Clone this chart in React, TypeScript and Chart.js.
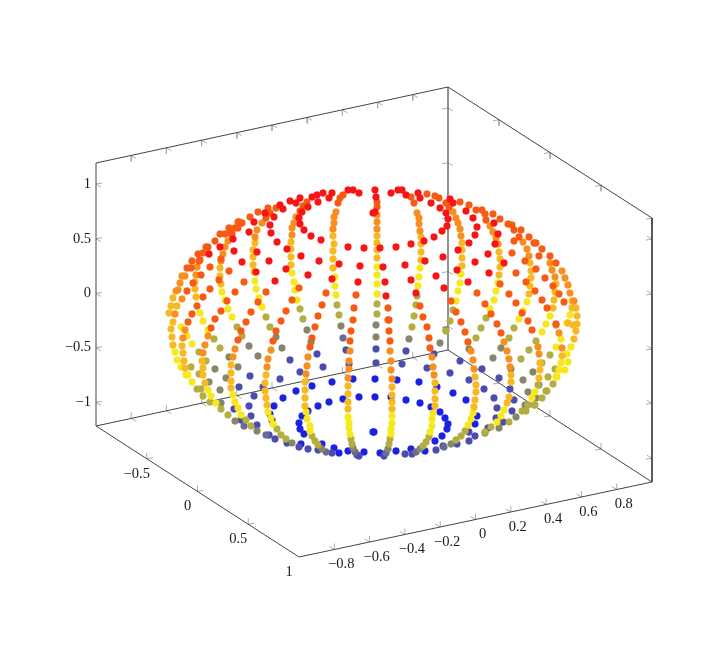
import React, { useEffect, useRef } from "react";
import { Chart, registerables } from "chart.js";

Chart.register(...registerables);

type P = number[];

// Points, grouped by colour band (low z to high z), in projected plane units.
const bluePts: P[] = [[312,386],[329,402],[332,382],[343,399],[353,379],[359,397],[283,398],[274,406],[296,391],[270,414],[272,420],[299,423],[302,416],[308,411],[318,406],[300,429],[304,434],[322,444],[334,448],[301,444],[339,453],[348,451],[364,452],[375,379],[375,397],[373,432],[374,432],[380,453],[391,397],[397,380],[396,451],[411,449],[425,451],[419,382],[406,400],[437,387],[420,403],[453,393],[431,407],[466,400],[440,412],[477,416],[445,418],[475,424],[448,424],[447,429],[442,436],[435,441]];
const slatePts: P[] = [[332,453],[357,455],[359,456],[384,456],[412,454],[346,350],[349,364],[290,360],[300,372],[317,354],[323,367],[250,376],[263,387],[239,387],[254,396],[234,409],[249,406],[241,420],[251,416],[257,425],[275,439],[269,435],[287,443],[318,450],[308,449],[299,447],[280,379],[376,349],[376,363],[406,351],[402,364],[434,354],[427,368],[460,361],[450,373],[482,369],[469,380],[499,378],[484,389],[510,389],[494,398],[514,400],[497,408],[512,411],[496,418],[503,422],[488,428],[469,432],[475,436],[469,441],[457,444],[405,454],[436,450],[443,446]];
const steelPts: P[] = [[326,452],[355,452],[386,453],[416,452],[444,447],[343,338],[244,426],[266,435]];
const grayPts: P[] = [[341,326],[307,330],[257,431],[292,443],[322,449],[353,448],[388,449],[376,325],[446,330],[229,357],[238,367],[249,346],[258,356],[276,337],[282,348],[311,342],[215,369],[226,378],[220,390],[209,382],[221,403],[235,421],[376,337],[420,449],[451,444],[409,339],[440,343],[469,349],[501,348],[493,358],[511,369],[533,372],[523,380],[539,385],[528,392],[536,398],[525,405],[516,417],[499,428],[485,433]];
const olivePts: P[] = [[337,305],[339,315],[300,309],[303,319],[266,317],[270,327],[237,327],[197,389],[221,409],[246,420],[251,426],[277,429],[281,435],[286,439],[312,436],[315,441],[318,445],[351,439],[352,444],[377,304],[377,314],[417,296],[416,305],[414,316],[453,310],[450,321],[486,318],[481,328],[514,328],[390,439],[389,444],[429,437],[426,442],[423,446],[465,431],[461,436],[456,440],[491,427],[485,432],[528,405],[522,411],[509,422],[553,384],[547,391],[542,398],[535,405],[526,411],[214,339],[220,348],[242,336],[199,352],[191,367],[199,374],[206,361],[201,389],[203,396],[210,402],[228,415],[550,355],[542,363],[555,369],[548,377],[546,391],[534,405],[412,327],[446,331],[476,338],[509,338],[529,350],[521,359],[536,341],[538,385]];
const yellowPts: P[] = [[335,277],[335,286],[336,295],[292,273],[294,282],[295,290],[297,300],[255,281],[256,289],[259,298],[262,307],[222,292],[225,300],[228,309],[232,317],[200,313],[203,321],[208,330],[175,352],[177,360],[181,367],[186,375],[192,382],[188,375],[192,344],[187,336],[181,327],[208,390],[211,396],[216,403],[233,395],[235,402],[238,408],[241,415],[268,412],[271,418],[273,424],[306,412],[307,419],[310,426],[310,431],[348,417],[349,423],[349,428],[350,434],[377,267],[377,275],[377,284],[377,294],[420,268],[419,277],[418,286],[461,274],[460,283],[458,291],[456,301],[498,283],[496,291],[494,300],[490,309],[527,302],[523,311],[519,319],[550,316],[546,324],[570,315],[567,323],[392,416],[392,423],[391,429],[391,434],[433,413],[432,419],[432,426],[430,432],[473,413],[471,419],[468,425],[504,410],[501,416],[497,422],[535,392],[532,398],[561,339],[561,363],[559,370],[557,377],[571,347],[567,354],[568,362],[565,370],[556,377],[542,332],[556,347]];
const amberPts: P[] = [[333,236],[334,244],[333,251],[333,259],[333,268],[291,242],[291,249],[291,257],[291,265],[255,243],[253,250],[253,257],[253,265],[254,272],[220,268],[220,276],[221,284],[195,282],[195,289],[196,297],[173,298],[171,306],[169,313],[173,322],[171,329],[177,306],[172,337],[173,345],[182,346],[183,353],[184,361],[185,368],[202,361],[203,368],[203,375],[205,383],[231,365],[231,373],[231,381],[231,388],[266,375],[265,383],[265,391],[266,398],[267,405],[305,382],[305,390],[305,398],[305,406],[348,386],[348,394],[348,402],[348,409],[377,236],[377,243],[377,250],[377,258],[421,237],[421,244],[421,252],[421,260],[462,243],[462,250],[462,258],[462,266],[499,252],[500,259],[500,267],[499,275],[530,263],[531,271],[531,278],[530,286],[529,294],[556,284],[555,292],[554,300],[553,308],[572,301],[572,308],[576,308],[577,316],[577,324],[573,325],[392,387],[392,395],[392,402],[392,409],[435,383],[435,391],[435,399],[435,406],[475,377],[476,385],[476,392],[475,400],[474,407],[511,375],[511,382],[509,397],[507,403],[540,363],[540,370],[539,378],[562,356],[576,331],[574,339],[568,323]];
const orangePts: P[] = [[336,212],[334,217],[334,223],[333,229],[296,217],[294,223],[292,228],[292,235],[262,223],[257,230],[255,237],[228,241],[225,247],[223,254],[221,261],[197,267],[196,275],[182,276],[180,283],[176,291],[185,276],[178,290],[182,299],[175,314],[185,330],[183,338],[208,336],[205,345],[203,353],[235,349],[233,357],[271,350],[268,359],[267,367],[308,357],[307,366],[306,374],[350,351],[349,361],[349,369],[348,378],[377,215],[377,222],[377,229],[417,213],[419,218],[419,224],[420,231],[453,212],[456,218],[458,223],[460,229],[461,236],[490,226],[493,232],[496,238],[498,244],[523,242],[527,249],[529,256],[550,263],[552,270],[555,277],[562,271],[565,278],[568,285],[570,293],[574,301],[390,351],[391,361],[391,370],[392,379],[432,357],[433,367],[434,375],[471,351],[473,360],[474,369],[504,342],[507,351],[509,359],[510,367],[538,347],[539,354],[556,325],[559,333],[562,348]];
const vermilionPts: P[] = [[343,195],[340,198],[338,203],[307,202],[303,206],[300,211],[270,213],[266,218],[238,222],[235,228],[231,234],[208,247],[203,253],[199,261],[187,268],[191,268],[276,208],[268,208],[258,212],[250,217],[242,223],[239,222],[229,228],[238,228],[225,234],[220,234],[232,234],[215,241],[206,247],[198,254],[192,261],[200,260],[377,202],[377,207],[411,197],[414,203],[446,203],[449,207],[486,220],[514,230],[519,237],[536,243],[542,249],[427,194],[435,196],[439,198],[460,202],[469,205],[476,210],[482,210],[485,214],[493,214],[500,219],[508,224],[512,225],[521,230],[529,237],[514,241],[534,243],[512,253],[525,261],[539,256],[550,256],[556,263],[299,288],[326,293],[356,295],[221,259],[229,271],[244,282],[266,292],[292,300],[322,305],[354,308],[210,267],[219,280],[235,292],[258,302],[286,311],[318,316],[353,320],[201,275],[210,289],[227,301],[251,312],[281,321],[315,327],[351,331],[193,283],[203,297],[221,311],[246,322],[276,331],[312,338],[350,341],[187,291],[197,306],[215,319],[241,331],[273,341],[310,347],[192,314],[188,322],[211,328],[238,340],[388,308],[420,306],[451,301],[477,293],[500,284],[516,273],[388,320],[423,317],[456,312],[485,304],[509,294],[526,282],[536,269],[389,320],[389,331],[390,341],[427,327],[429,338],[430,348],[461,322],[465,332],[468,342],[491,314],[501,333],[516,303],[535,291],[545,278],[497,324],[522,313],[542,300],[553,286],[528,321],[547,308],[559,294],[564,302],[556,324],[532,330]];
const redPts: P[] = [[373,213],[375,212],[375,190],[376,197],[359,193],[353,190],[348,190],[332,193],[329,198],[323,193],[317,195],[312,197],[318,202],[300,198],[296,203],[290,201],[308,207],[302,212],[283,209],[280,205],[265,213],[274,217],[254,222],[270,225],[271,233],[249,232],[233,239],[220,247],[209,254],[391,193],[398,190],[402,190],[406,195],[418,193],[420,198],[431,203],[450,199],[453,203],[440,208],[446,213],[466,211],[473,218],[494,223],[477,227],[475,235],[498,234],[299,218],[300,224],[304,230],[311,236],[321,240],[348,247],[364,248],[277,242],[287,249],[301,256],[319,261],[339,264],[360,266],[257,252],[269,261],[286,269],[308,275],[332,279],[358,282],[234,251],[242,262],[256,272],[275,281],[380,248],[396,247],[411,244],[424,241],[434,237],[442,231],[447,226],[448,219],[383,267],[405,265],[425,261],[443,257],[458,250],[469,243],[385,282],[411,280],[436,276],[457,270],[475,262],[488,254],[495,244],[416,293],[444,288],[468,282],[489,273],[504,263],[386,296]];

const bandColors = ["#1a22e2", "#4a4cb0", "#6a6a92", "#85866a", "#b4ae42", "#f6e81c", "#f8b822", "#f88e1e", "#f85a14", "#f81414"];
const bands = [bluePts, slatePts, steelPts, grayPts, olivePts, yellowPts, amberPts, orangePts, vermilionPts, redPts];

// Tick labels of the three axes.
const xTickLabels = ["\u22120.8", "\u22120.6", "\u22120.4", "\u22120.2", "0", "0.2", "0.4", "0.6", "0.8"];
const yTickLabels = ["\u22120.5", "0", "0.5", "1"];
const zTickLabels = ["1", "0.5", "0", "\u22120.5", "\u22121"];

// Projected corners of the axis box.
const TL = [96, 163], TB = [448, 87], TR = [652, 218];
const BL = [96, 426], BB = [448, 350], BR = [652, 482], BF = [299, 557];

const lerp = (a: number[], b: number[], t: number) => [a[0] + (b[0] - a[0]) * t, a[1] + (b[1] - a[1]) * t];

function ticksOnEdge(a: number[], b: number[], fracs: number[], arms: number[][]) {
  const out: any[] = [];
  fracs.forEach((f) => {
    const p = lerp(a, b, f);
    arms.forEach((arm) => {
      out.push({ x: p[0], y: p[1] }, { x: p[0] + arm[0], y: p[1] + arm[1] }, { x: null, y: null });
    });
  });
  return out;
}

const xFracs = xTickLabels.map((_, i) => (i + 1) / 10);
const yFracs = [0.25, 0.5, 0.75];
const zFracs = [0.08, 0.288, 0.496, 0.702, 0.91];

const seg = (...pts: number[][]) => pts.map((p) => ({ x: p[0], y: p[1] }));

const labelPlugin = {
  id: "axisText",
  afterDraw(chart: any) {
    const { ctx, scales } = chart;
    const px = (v: number) => scales.x.getPixelForValue(v);
    const py = (v: number) => scales.y.getPixelForValue(v);
    ctx.save();
    ctx.fillStyle = "#1a1a1a";
    ctx.font = '14.5px "Liberation Serif", serif';
    ctx.textBaseline = "middle";
    ctx.textAlign = "center";
    xTickLabels.forEach((t, i) => {
      const p = lerp(BF, BR, xFracs[i]);
      ctx.fillText(t, px(p[0] + 7), py(p[1] + 15));
    });
    yTickLabels.forEach((t, i) => {
      const p = lerp(BL, BF, i === 3 ? 1 : yFracs[i]);
      ctx.fillText(t, px(p[0] - 10), py(p[1] + 15));
    });
    ctx.textAlign = "right";
    zTickLabels.forEach((t, i) => {
      const p = lerp(TL, BL, zFracs[i]);
      ctx.fillText(t, px(p[0] - 5), py(p[1]));
    });
    ctx.restore();
  },
};

export default function App() {
  const ref = useRef<HTMLCanvasElement>(null);
  useEffect(() => {
    if (!ref.current) return;
    const tickData = [
      ...ticksOnEdge(TL, TB, xFracs, [[0, 6], [5, 3]]),
      ...ticksOnEdge(BL, BB, xFracs, [[0, -6], [5, 3]]),
      ...ticksOnEdge(BF, BR, xFracs, [[0, -6], [-5, -3]]),
      ...ticksOnEdge(TB, TR, [...yFracs, 1], [[0, 6], [-6, 1]]),
      ...ticksOnEdge(BB, BR, yFracs, [[0, -6], [-6, 1]]),
      ...ticksOnEdge(BL, BF, yFracs, [[0, -6], [6, -1]]),
      ...ticksOnEdge(TL, BL, zFracs, [[6, -1], [5, 3]]),
      ...ticksOnEdge(TB, BB, zFracs, [[-6, 1], [5, 3]]),
      ...ticksOnEdge(TR, BR, zFracs, [[-6, 1], [-5, -3]]),
    ];
    const line = (data: any[], color: string, width: number, order: number) => ({
      data,
      showLine: true,
      borderColor: color,
      borderWidth: width,
      pointRadius: 0,
      spanGaps: false,
      order,
    });
    const chart = new Chart(ref.current, {
      type: "scatter",
      data: {
        datasets: [
          line(tickData, "#aaaaaa", 1, 103),
          line(seg(TB, BB), "#777777", 1.6, 102),
          line(seg(BL, BB, BR), "#444444", 1, 101),
          line(seg(BL, TL, TB, TR, BR, BF, BL), "#444444", 1, 101),
          ...bands.map((pts, i) => ({
            data: pts.map((p) => ({ x: p[0], y: p[1] })),
            backgroundColor: bandColors[i],
            borderColor: bandColors[i] + "66",
            borderWidth: 1,
            pointRadius: 3.4,
            order: 50 - i,
          })),
        ],
      } as any,
      options: {
        animation: false,
        responsive: false,
        layout: { padding: 0, autoPadding: false },
        plugins: { legend: { display: false }, tooltip: { enabled: false } },
        scales: {
          x: { type: "linear", min: 0, max: 720, display: false },
          y: { type: "linear", min: 0, max: 667, reverse: true, display: false },
        },
      } as any,
      plugins: [labelPlugin],
    });
    return () => chart.destroy();
  }, []);
  return (
    <canvas
      ref={ref}
      width={720}
      height={667}
      style={{ position: "absolute", left: 0, top: 0, width: 720, height: 667, background: "#fff" }}
    />
  );
}
